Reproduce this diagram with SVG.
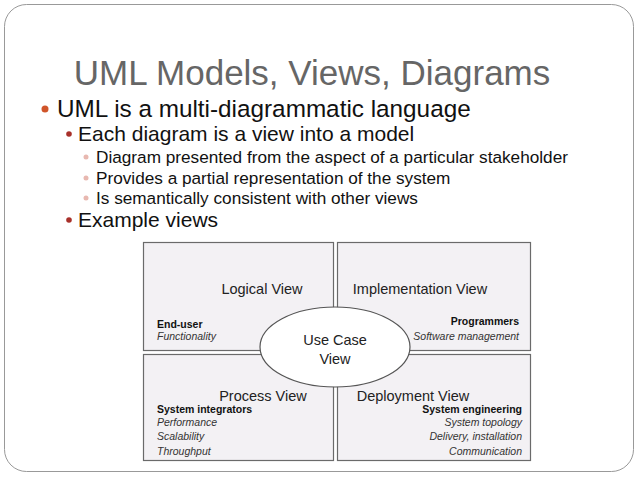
<svg xmlns="http://www.w3.org/2000/svg" width="638" height="478" viewBox="0 0 638 478">
<style>
text{font-family:"Liberation Sans",Arial,sans-serif}
.box{fill:#f3f1f4;stroke:#6a6a6a;stroke-width:1.2}
.h{font-size:14.5px;fill:#222}
.b{font-size:10.5px;font-weight:bold;fill:#111}
.i{font-size:10.5px;font-style:italic;fill:#333}
.l1{font-size:24.3px;fill:#111}
.l2{font-size:21px;fill:#111}
.l3{font-size:17.2px;fill:#111}
.d1{fill:#d0552a}.d2{fill:#a8302a}.d3{fill:#e8b8b0}
</style>
<rect width="638" height="478" fill="#fff"/>
<rect x="4.5" y="4.5" width="629" height="467" rx="22" fill="#fff" stroke="#999" stroke-width="1"/>
<text x="312" y="85" text-anchor="middle" font-size="35" fill="#666">UML Models, Views, Diagrams</text>
<circle class="d1" cx="45" cy="109" r="3.5"/>
<text class="l1" x="57" y="117">UML is a multi-diagrammatic language</text>
<circle class="d2" cx="69" cy="134" r="2.8"/>
<text class="l2" x="78" y="141">Each diagram is a view into a model</text>
<circle class="d3" cx="86" cy="157" r="2.5"/>
<text class="l3" x="96" y="163">Diagram presented from the aspect of a particular stakeholder</text>
<circle class="d3" cx="86" cy="178" r="2.5"/>
<text class="l3" x="96" y="184">Provides a partial representation of the system</text>
<circle class="d3" cx="86" cy="198" r="2.5"/>
<text class="l3" x="96" y="204">Is semantically consistent with other views</text>
<circle class="d2" cx="69" cy="220" r="2.8"/>
<text class="l2" x="78" y="227">Example views</text>
<g id="logical"><rect class="box" x="143.5" y="242.5" width="190" height="108"/>
<text class="h" x="262" y="294" text-anchor="middle">Logical View</text>
<text class="b" x="157" y="328">End-user</text><text class="i" x="157" y="340">Functionality</text></g>
<g id="implementation"><rect class="box" x="337.5" y="242.5" width="193" height="108"/>
<text class="h" x="420" y="294" text-anchor="middle">Implementation View</text>
<text class="b" x="519" y="325" text-anchor="end">Programmers</text><text class="i" x="519" y="340" text-anchor="end">Software management</text></g>
<g id="process"><rect class="box" x="143.5" y="354.5" width="190" height="106"/>
<text class="h" x="263" y="401" text-anchor="middle">Process View</text>
<text class="b" x="157" y="413">System integrators</text>
<text class="i" x="157" y="426">Performance</text><text class="i" x="157" y="440">Scalability</text><text class="i" x="157" y="455">Throughput</text></g>
<g id="deployment"><rect class="box" x="337.5" y="354.5" width="193" height="106"/>
<text class="h" x="413" y="401" text-anchor="middle">Deployment View</text>
<text class="b" x="522" y="413" text-anchor="end">System engineering</text>
<text class="i" x="522" y="426" text-anchor="end">System topology</text><text class="i" x="522" y="440" text-anchor="end">Delivery, installation</text><text class="i" x="522" y="455" text-anchor="end">Communication</text></g>
<g id="usecase"><ellipse cx="335" cy="347" rx="75" ry="40" fill="#fff" stroke="#555" stroke-width="1.2"/>
<text class="h" x="335" y="345" text-anchor="middle">Use Case</text><text class="h" x="335" y="364" text-anchor="middle">View</text></g>
<g id="connectors"></g>
</svg>
